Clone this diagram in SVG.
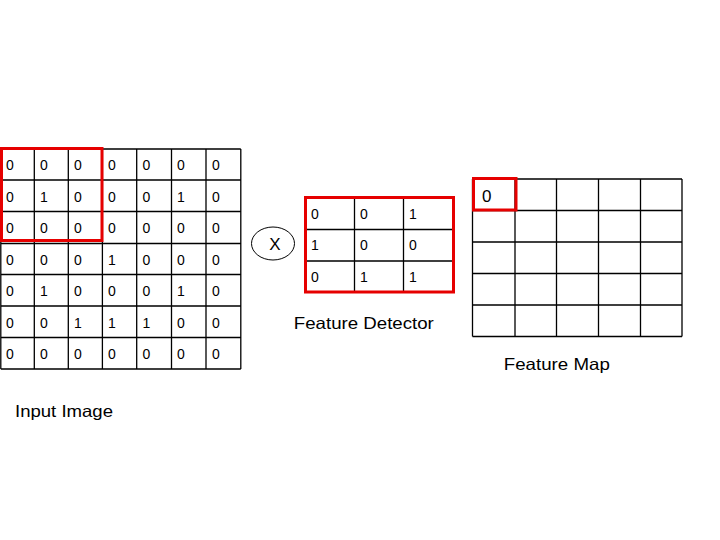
<svg xmlns="http://www.w3.org/2000/svg" width="720" height="540" viewBox="0 0 720 540">
<style>
.grid{fill:none;stroke:#000;stroke-width:1.3}
.sel{fill:none;stroke:#e60000;stroke-width:3}
.d{font-family:"Liberation Sans",Arial,sans-serif;font-size:14px;fill:#000}
.lbl{font-family:"Liberation Sans",Arial,sans-serif;font-size:16.5px;fill:#000}
</style>
<rect width="720" height="540" fill="#fff"/>
<g id="input-image">
<path class="grid" d="M0.8 149H240.8M0.8 180H240.8M0.8 211.5H240.8M0.8 243.5H240.8M0.8 274.5H240.8M0.8 306H240.8M0.8 337.5H240.8M0.8 369H240.8M0.8 149V369M34.3 149V369M68.3 149V369M102.4 149V369M136.7 149V369M171.5 149V369M206 149V369M240.8 149V369"/>
<g class="d">
<text x="6" y="170">0</text><text x="40" y="170">0</text><text x="74" y="170">0</text><text x="108" y="170">0</text><text x="142.5" y="170">0</text><text x="177" y="170">0</text><text x="212" y="170">0</text>
<text x="6" y="201.5">0</text><text x="40" y="201.5">1</text><text x="74" y="201.5">0</text><text x="108" y="201.5">0</text><text x="142.5" y="201.5">0</text><text x="177" y="201.5">1</text><text x="212" y="201.5">0</text>
<text x="6" y="233">0</text><text x="40" y="233">0</text><text x="74" y="233">0</text><text x="108" y="233">0</text><text x="142.5" y="233">0</text><text x="177" y="233">0</text><text x="212" y="233">0</text>
<text x="6" y="264.5">0</text><text x="40" y="264.5">0</text><text x="74" y="264.5">0</text><text x="108" y="264.5">1</text><text x="142.5" y="264.5">0</text><text x="177" y="264.5">0</text><text x="212" y="264.5">0</text>
<text x="6" y="296">0</text><text x="40" y="296">1</text><text x="74" y="296">0</text><text x="108" y="296">0</text><text x="142.5" y="296">0</text><text x="177" y="296">1</text><text x="212" y="296">0</text>
<text x="6" y="327.5">0</text><text x="40" y="327.5">0</text><text x="74" y="327.5">1</text><text x="108" y="327.5">1</text><text x="142.5" y="327.5">1</text><text x="177" y="327.5">0</text><text x="212" y="327.5">0</text>
<text x="6" y="359">0</text><text x="40" y="359">0</text><text x="74" y="359">0</text><text x="108" y="359">0</text><text x="142.5" y="359">0</text><text x="177" y="359">0</text><text x="212" y="359">0</text>
</g>
<rect class="sel" x="1.5" y="148.5" width="100.5" height="92"/>
<text class="lbl" x="15" y="416.5" textLength="98" lengthAdjust="spacingAndGlyphs">Input Image</text>
</g>
<g id="multiply-op">
<ellipse cx="273" cy="243.5" rx="21.5" ry="16.5" fill="none" stroke="#000" stroke-width="1"/>
<text x="275" y="250" text-anchor="middle" font-family="Liberation Sans, Arial, sans-serif" font-size="17">X</text>
</g>
<g id="feature-detector">
<path class="grid" d="M305.5 229.5H453.5M305.5 261H453.5M354.5 197.5V292M403.5 197.5V292"/>
<g class="d">
<text x="311" y="218.5">0</text><text x="360" y="218.5">0</text><text x="409" y="218.5">1</text>
<text x="311" y="250">1</text><text x="360" y="250">0</text><text x="409" y="250">0</text>
<text x="311" y="281.5">0</text><text x="360" y="281.5">1</text><text x="409" y="281.5">1</text>
</g>
<rect class="sel" x="305.5" y="197.5" width="148" height="94.5"/>
<text class="lbl" x="293.8" y="328.5" textLength="140" lengthAdjust="spacingAndGlyphs">Feature Detector</text>
</g>
<g id="feature-map">
<path class="grid" d="M472.5 179H682M472.5 210.5H682M472.5 242H682M472.5 273.5H682M472.5 305H682M472.5 336.5H682M472.5 179V336.5M515 179V336.5M556.5 179V336.5M598.5 179V336.5M640.5 179V336.5M682 179V336.5"/>
<rect class="sel" x="473.5" y="178.5" width="42.5" height="31.5"/>
<text x="482" y="201.5" font-family="Liberation Sans, Arial, sans-serif" font-size="17">0</text>
<text class="lbl" x="503.8" y="370" textLength="106" lengthAdjust="spacingAndGlyphs">Feature Map</text>
</g>
<g id="connectors"/>
</svg>
